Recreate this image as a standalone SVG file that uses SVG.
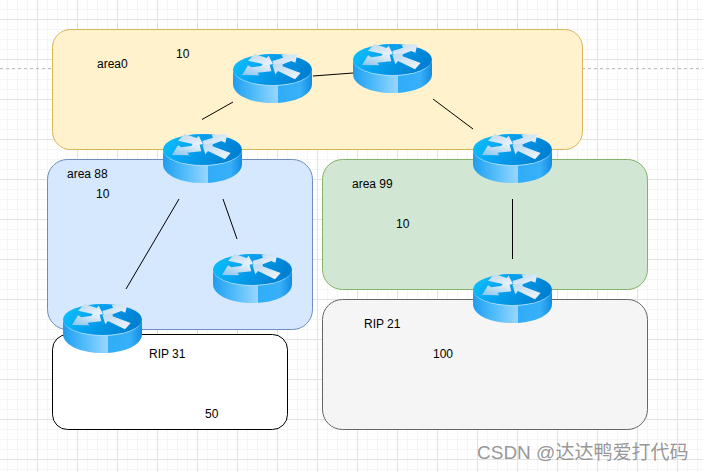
<svg xmlns="http://www.w3.org/2000/svg" width="703" height="472" viewBox="0 0 703 472">
<style>
.t{font:12px "Liberation Sans",Arial,sans-serif;fill:#000}
.c{stroke:#000;stroke-width:1;fill:none}
</style>
<defs>
<pattern id="minor" width="10" height="10" patternUnits="userSpaceOnUse" x="-3" y="-1">
<path d="M0 .5H10M.5 0V10" stroke="#f5f5f5" stroke-width="1" fill="none"/>
</pattern>
<pattern id="major" width="40" height="40" patternUnits="userSpaceOnUse" x="-3" y="-21">
<path d="M0 .5H40M.5 0V40" stroke="#e2e2e2" stroke-width="1" fill="none"/>
</pattern>
<linearGradient id="side" x1="0" x2="1" y1="0" y2="0">
<stop offset="0" stop-color="#1e9eee"/><stop offset=".25" stop-color="#4dbafb"/><stop offset=".57" stop-color="#98d6fd"/><stop offset=".575" stop-color="#30acf8"/><stop offset=".85" stop-color="#38b0f9"/><stop offset="1" stop-color="#128ce0"/>
</linearGradient>
<linearGradient id="top" x1="0" x2="1" y1="0" y2=".3">
<stop offset="0" stop-color="#0cc4fd"/><stop offset=".5" stop-color="#069fee"/><stop offset="1" stop-color="#0080d2"/>
</linearGradient>
<linearGradient id="ar1" x1="1" x2="0" y1="0" y2="1">
<stop offset="0" stop-color="#f0f5fa"/><stop offset="1" stop-color="#85c2ec"/>
</linearGradient>
<linearGradient id="ar2" x1="0" x2="1" y1="0" y2="1">
<stop offset="0" stop-color="#b8d8f2"/><stop offset="1" stop-color="#f4f6f8"/>
</linearGradient>
<g id="router">
<path d="M0 16V30C0 41 17 49 39.500 49S79 41 79 30V16Z" fill="url(#side)"/>
<ellipse cx="39.500" cy="16" rx="39.500" ry="16" fill="#a5dcfa"/>
<ellipse cx="39.500" cy="15.500" rx="39.500" ry="15.500" fill="url(#top)"/>
<g transform="translate(-5 -4) scale(.3333)">
<path d="M60 32L80 12L116 24L122 17L135 42L98 50L104 42Z" fill="url(#ar2)"/>
<path d="M42 75L60 46L70 52L125 44L130 64L88 68L94 76Z" fill="url(#ar1)"/>
<path d="M133 33L165 23L161 14L208 13L202 38L190 33L150 48L138 47Z" fill="url(#ar2)"/>
<path d="M133 44L164 39L164 49L218 69L201 88L150 63L142 73Z" fill="url(#ar2)"/>
</g>
</g>
</defs>
<rect width="703" height="472" fill="#fff"/>
<rect width="703" height="472" fill="url(#minor)"/>
<rect width="703" height="472" fill="url(#major)"/>
<line x1="0" y1="68.500" x2="703" y2="68.500" stroke="#bdbdbd" stroke-dasharray="3 3"/>
<g id="area-rip31"><rect x="52.500" y="334.500" width="235" height="95" rx="15" fill="#fff" stroke="#000"/></g>
<g id="area-rip21"><rect x="322.500" y="299.500" width="325" height="130" rx="20" fill="#f5f5f5" stroke="#666"/></g>
<g id="area-0"><rect x="52.500" y="29.500" width="530" height="120" rx="18" fill="#fff2cc" stroke="#d6b656"/></g>
<g id="area-88"><rect x="47.500" y="159.500" width="265" height="170" rx="20" fill="#d5e8fd" stroke="#6c8ebf"/></g>
<g id="area-99"><rect x="322.500" y="159.500" width="325" height="130" rx="20" fill="#d1e7d3" stroke="#82b366"/></g>
<g id="connectors">
<line class="c" x1="202" y1="119.500" x2="233" y2="102"/>
<line class="c" x1="313" y1="76" x2="353" y2="73"/>
<line class="c" x1="433" y1="99" x2="473" y2="129"/>
<line class="c" x1="179" y1="199" x2="126" y2="289"/>
<line class="c" x1="223" y1="199" x2="237" y2="239"/>
<line class="c" x1="512.500" y1="199" x2="512.500" y2="259"/>
</g>
<g id="router-1"><use href="#router" x="233" y="54"/></g>
<g id="router-2"><use href="#router" x="353" y="44"/></g>
<g id="router-3"><use href="#router" x="163" y="134"/></g>
<g id="router-4"><use href="#router" x="473" y="134"/></g>
<g id="router-5"><use href="#router" x="213" y="254"/></g>
<g id="router-6"><use href="#router" x="63" y="304"/></g>
<g id="router-7"><use href="#router" x="473" y="274"/></g>
<g id="labels">
<text class="t" x="97" y="68">area0</text>
<text class="t" x="176" y="58">10</text>
<text class="t" x="67" y="178">area 88</text>
<text class="t" x="96" y="198">10</text>
<text class="t" x="352" y="188">area 99</text>
<text class="t" x="396" y="228">10</text>
<text class="t" x="364" y="328">RIP 21</text>
<text class="t" x="433" y="358">100</text>
<text class="t" x="149" y="358">RIP 31</text>
<text class="t" x="205" y="418">50</text>
</g>
<text x="477" y="459" font-family="'Liberation Sans','Noto Sans CJK SC',sans-serif" font-size="19" fill="#8a8a8a" fill-opacity=".9">CSDN @达达鸭爱打代码</text>
</svg>
